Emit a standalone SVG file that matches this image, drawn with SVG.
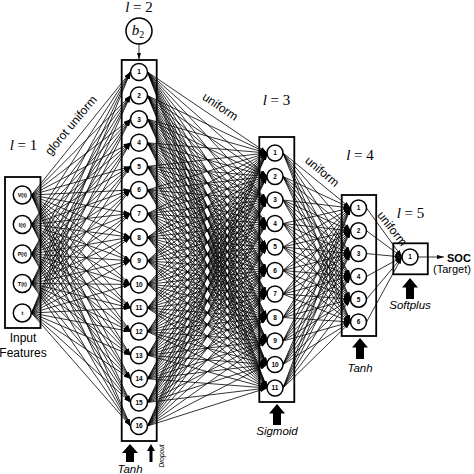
<svg xmlns="http://www.w3.org/2000/svg" width="474" height="474" viewBox="0 0 474 474">
<style>
.box{fill:none;stroke:#000;stroke-width:1.8}
.n{fill:#fff;stroke:#000;stroke-width:1.5}
.c path{stroke:#000;stroke-width:0.8;fill:none;marker-end:url(#ah)}
.num{font-family:"Liberation Sans",Arial,sans-serif;font-weight:bold;font-size:6.5px;text-anchor:middle}
.inp{font-family:"Liberation Sans",Arial,sans-serif;font-weight:bold;font-size:5.5px;text-anchor:middle}
.lay{font-family:"Liberation Serif","Times New Roman",serif;font-size:15px;text-anchor:middle}
.lbl{font-family:"Liberation Sans",Arial,sans-serif;font-size:12px}
.act{font-family:"Liberation Sans",Arial,sans-serif;font-size:11.5px;font-style:italic;text-anchor:middle}
.mid{text-anchor:middle}
</style>
<defs>
<marker id="ah" viewBox="0 0 10 6" refX="10" refY="3" markerWidth="7" markerHeight="4.2" markerUnits="userSpaceOnUse" orient="auto"><path d="M0 0L10 3L0 6Z" fill="#000"/></marker>
<path id="fa" d="M0 0L8 9.5H4V21H-4V9.5H-8Z" fill="#000"/>
<path id="fs" d="M0 0L8 9H4V18H-4V9H-8Z" fill="#000"/>
</defs>

<!-- layer boxes -->
<rect class="box" x="5" y="177" width="35.5" height="151"/>
<rect class="box" x="121.7" y="60" width="35" height="381"/>
<rect class="box" x="259.3" y="137" width="35" height="265"/>
<rect class="box" x="341.7" y="195" width="34.5" height="141"/>
<rect class="box" x="393.3" y="243.3" width="34.5" height="31"/>

<g id="connectors" class="c">
<path d="M139 44L139 59.5"/>
<path d="M418 257L444 257"/>
<!-- L1 to L2 -->
<path d="M31.5 195L130.5 72"/><path d="M31.5 195L130.5 95.6"/><path d="M31.5 195L130.5 119.2"/><path d="M31.5 195L130.5 142.8"/><path d="M31.5 195L130.5 166.4"/><path d="M31.5 195L130.5 190"/><path d="M31.5 195L130.5 213.6"/><path d="M31.5 195L130.5 237.2"/><path d="M31.5 195L130.5 260.8"/><path d="M31.5 195L130.5 284.4"/><path d="M31.5 195L130.5 308"/><path d="M31.5 195L130.5 331.6"/><path d="M31.5 195L130.5 355.2"/><path d="M31.5 195L130.5 378.8"/><path d="M31.5 195L130.5 402.4"/><path d="M31.5 195L130.5 426"/>
<path d="M31.5 224.5L130.5 72"/><path d="M31.5 224.5L130.5 95.6"/><path d="M31.5 224.5L130.5 119.2"/><path d="M31.5 224.5L130.5 142.8"/><path d="M31.5 224.5L130.5 166.4"/><path d="M31.5 224.5L130.5 190"/><path d="M31.5 224.5L130.5 213.6"/><path d="M31.5 224.5L130.5 237.2"/><path d="M31.5 224.5L130.5 260.8"/><path d="M31.5 224.5L130.5 284.4"/><path d="M31.5 224.5L130.5 308"/><path d="M31.5 224.5L130.5 331.6"/><path d="M31.5 224.5L130.5 355.2"/><path d="M31.5 224.5L130.5 378.8"/><path d="M31.5 224.5L130.5 402.4"/><path d="M31.5 224.5L130.5 426"/>
<path d="M31.5 254L130.5 72"/><path d="M31.5 254L130.5 95.6"/><path d="M31.5 254L130.5 119.2"/><path d="M31.5 254L130.5 142.8"/><path d="M31.5 254L130.5 166.4"/><path d="M31.5 254L130.5 190"/><path d="M31.5 254L130.5 213.6"/><path d="M31.5 254L130.5 237.2"/><path d="M31.5 254L130.5 260.8"/><path d="M31.5 254L130.5 284.4"/><path d="M31.5 254L130.5 308"/><path d="M31.5 254L130.5 331.6"/><path d="M31.5 254L130.5 355.2"/><path d="M31.5 254L130.5 378.8"/><path d="M31.5 254L130.5 402.4"/><path d="M31.5 254L130.5 426"/>
<path d="M31.5 283.5L130.5 72"/><path d="M31.5 283.5L130.5 95.6"/><path d="M31.5 283.5L130.5 119.2"/><path d="M31.5 283.5L130.5 142.8"/><path d="M31.5 283.5L130.5 166.4"/><path d="M31.5 283.5L130.5 190"/><path d="M31.5 283.5L130.5 213.6"/><path d="M31.5 283.5L130.5 237.2"/><path d="M31.5 283.5L130.5 260.8"/><path d="M31.5 283.5L130.5 284.4"/><path d="M31.5 283.5L130.5 308"/><path d="M31.5 283.5L130.5 331.6"/><path d="M31.5 283.5L130.5 355.2"/><path d="M31.5 283.5L130.5 378.8"/><path d="M31.5 283.5L130.5 402.4"/><path d="M31.5 283.5L130.5 426"/>
<path d="M31.5 313L130.5 72"/><path d="M31.5 313L130.5 95.6"/><path d="M31.5 313L130.5 119.2"/><path d="M31.5 313L130.5 142.8"/><path d="M31.5 313L130.5 166.4"/><path d="M31.5 313L130.5 190"/><path d="M31.5 313L130.5 213.6"/><path d="M31.5 313L130.5 237.2"/><path d="M31.5 313L130.5 260.8"/><path d="M31.5 313L130.5 284.4"/><path d="M31.5 313L130.5 308"/><path d="M31.5 313L130.5 331.6"/><path d="M31.5 313L130.5 355.2"/><path d="M31.5 313L130.5 378.8"/><path d="M31.5 313L130.5 402.4"/><path d="M31.5 313L130.5 426"/>
<!-- L2 to L3 -->
<path d="M147.5 72L267 153"/><path d="M147.5 72L267 176.5"/><path d="M147.5 72L267 200"/><path d="M147.5 72L267 223.5"/><path d="M147.5 72L267 247"/><path d="M147.5 72L267 270.5"/><path d="M147.5 72L267 294"/><path d="M147.5 72L267 317.5"/><path d="M147.5 72L267 341"/><path d="M147.5 72L267 364.5"/><path d="M147.5 72L267 388"/>
<path d="M147.5 95.6L267 153"/><path d="M147.5 95.6L267 176.5"/><path d="M147.5 95.6L267 200"/><path d="M147.5 95.6L267 223.5"/><path d="M147.5 95.6L267 247"/><path d="M147.5 95.6L267 270.5"/><path d="M147.5 95.6L267 294"/><path d="M147.5 95.6L267 317.5"/><path d="M147.5 95.6L267 341"/><path d="M147.5 95.6L267 364.5"/><path d="M147.5 95.6L267 388"/>
<path d="M147.5 119.2L267 153"/><path d="M147.5 119.2L267 176.5"/><path d="M147.5 119.2L267 200"/><path d="M147.5 119.2L267 223.5"/><path d="M147.5 119.2L267 247"/><path d="M147.5 119.2L267 270.5"/><path d="M147.5 119.2L267 294"/><path d="M147.5 119.2L267 317.5"/><path d="M147.5 119.2L267 341"/><path d="M147.5 119.2L267 364.5"/><path d="M147.5 119.2L267 388"/>
<path d="M147.5 142.8L267 153"/><path d="M147.5 142.8L267 176.5"/><path d="M147.5 142.8L267 200"/><path d="M147.5 142.8L267 223.5"/><path d="M147.5 142.8L267 247"/><path d="M147.5 142.8L267 270.5"/><path d="M147.5 142.8L267 294"/><path d="M147.5 142.8L267 317.5"/><path d="M147.5 142.8L267 341"/><path d="M147.5 142.8L267 364.5"/><path d="M147.5 142.8L267 388"/>
<path d="M147.5 166.4L267 153"/><path d="M147.5 166.4L267 176.5"/><path d="M147.5 166.4L267 200"/><path d="M147.5 166.4L267 223.5"/><path d="M147.5 166.4L267 247"/><path d="M147.5 166.4L267 270.5"/><path d="M147.5 166.4L267 294"/><path d="M147.5 166.4L267 317.5"/><path d="M147.5 166.4L267 341"/><path d="M147.5 166.4L267 364.5"/><path d="M147.5 166.4L267 388"/>
<path d="M147.5 190L267 153"/><path d="M147.5 190L267 176.5"/><path d="M147.5 190L267 200"/><path d="M147.5 190L267 223.5"/><path d="M147.5 190L267 247"/><path d="M147.5 190L267 270.5"/><path d="M147.5 190L267 294"/><path d="M147.5 190L267 317.5"/><path d="M147.5 190L267 341"/><path d="M147.5 190L267 364.5"/><path d="M147.5 190L267 388"/>
<path d="M147.5 213.6L267 153"/><path d="M147.5 213.6L267 176.5"/><path d="M147.5 213.6L267 200"/><path d="M147.5 213.6L267 223.5"/><path d="M147.5 213.6L267 247"/><path d="M147.5 213.6L267 270.5"/><path d="M147.5 213.6L267 294"/><path d="M147.5 213.6L267 317.5"/><path d="M147.5 213.6L267 341"/><path d="M147.5 213.6L267 364.5"/><path d="M147.5 213.6L267 388"/>
<path d="M147.5 237.2L267 153"/><path d="M147.5 237.2L267 176.5"/><path d="M147.5 237.2L267 200"/><path d="M147.5 237.2L267 223.5"/><path d="M147.5 237.2L267 247"/><path d="M147.5 237.2L267 270.5"/><path d="M147.5 237.2L267 294"/><path d="M147.5 237.2L267 317.5"/><path d="M147.5 237.2L267 341"/><path d="M147.5 237.2L267 364.5"/><path d="M147.5 237.2L267 388"/>
<path d="M147.5 260.8L267 153"/><path d="M147.5 260.8L267 176.5"/><path d="M147.5 260.8L267 200"/><path d="M147.5 260.8L267 223.5"/><path d="M147.5 260.8L267 247"/><path d="M147.5 260.8L267 270.5"/><path d="M147.5 260.8L267 294"/><path d="M147.5 260.8L267 317.5"/><path d="M147.5 260.8L267 341"/><path d="M147.5 260.8L267 364.5"/><path d="M147.5 260.8L267 388"/>
<path d="M147.5 284.4L267 153"/><path d="M147.5 284.4L267 176.5"/><path d="M147.5 284.4L267 200"/><path d="M147.5 284.4L267 223.5"/><path d="M147.5 284.4L267 247"/><path d="M147.5 284.4L267 270.5"/><path d="M147.5 284.4L267 294"/><path d="M147.5 284.4L267 317.5"/><path d="M147.5 284.4L267 341"/><path d="M147.5 284.4L267 364.5"/><path d="M147.5 284.4L267 388"/>
<path d="M147.5 308L267 153"/><path d="M147.5 308L267 176.5"/><path d="M147.5 308L267 200"/><path d="M147.5 308L267 223.5"/><path d="M147.5 308L267 247"/><path d="M147.5 308L267 270.5"/><path d="M147.5 308L267 294"/><path d="M147.5 308L267 317.5"/><path d="M147.5 308L267 341"/><path d="M147.5 308L267 364.5"/><path d="M147.5 308L267 388"/>
<path d="M147.5 331.6L267 153"/><path d="M147.5 331.6L267 176.5"/><path d="M147.5 331.6L267 200"/><path d="M147.5 331.6L267 223.5"/><path d="M147.5 331.6L267 247"/><path d="M147.5 331.6L267 270.5"/><path d="M147.5 331.6L267 294"/><path d="M147.5 331.6L267 317.5"/><path d="M147.5 331.6L267 341"/><path d="M147.5 331.6L267 364.5"/><path d="M147.5 331.6L267 388"/>
<path d="M147.5 355.2L267 153"/><path d="M147.5 355.2L267 176.5"/><path d="M147.5 355.2L267 200"/><path d="M147.5 355.2L267 223.5"/><path d="M147.5 355.2L267 247"/><path d="M147.5 355.2L267 270.5"/><path d="M147.5 355.2L267 294"/><path d="M147.5 355.2L267 317.5"/><path d="M147.5 355.2L267 341"/><path d="M147.5 355.2L267 364.5"/><path d="M147.5 355.2L267 388"/>
<path d="M147.5 378.8L267 153"/><path d="M147.5 378.8L267 176.5"/><path d="M147.5 378.8L267 200"/><path d="M147.5 378.8L267 223.5"/><path d="M147.5 378.8L267 247"/><path d="M147.5 378.8L267 270.5"/><path d="M147.5 378.8L267 294"/><path d="M147.5 378.8L267 317.5"/><path d="M147.5 378.8L267 341"/><path d="M147.5 378.8L267 364.5"/><path d="M147.5 378.8L267 388"/>
<path d="M147.5 402.4L267 153"/><path d="M147.5 402.4L267 176.5"/><path d="M147.5 402.4L267 200"/><path d="M147.5 402.4L267 223.5"/><path d="M147.5 402.4L267 247"/><path d="M147.5 402.4L267 270.5"/><path d="M147.5 402.4L267 294"/><path d="M147.5 402.4L267 317.5"/><path d="M147.5 402.4L267 341"/><path d="M147.5 402.4L267 364.5"/><path d="M147.5 402.4L267 388"/>
<path d="M147.5 426L267 153"/><path d="M147.5 426L267 176.5"/><path d="M147.5 426L267 200"/><path d="M147.5 426L267 223.5"/><path d="M147.5 426L267 247"/><path d="M147.5 426L267 270.5"/><path d="M147.5 426L267 294"/><path d="M147.5 426L267 317.5"/><path d="M147.5 426L267 341"/><path d="M147.5 426L267 364.5"/><path d="M147.5 426L267 388"/>
<!-- L3 to L4 -->
<path d="M283 153L350.5 208"/><path d="M283 153L350.5 230.8"/><path d="M283 153L350.5 253.6"/><path d="M283 153L350.5 276.4"/><path d="M283 153L350.5 299.2"/><path d="M283 153L350.5 322"/>
<path d="M283 176.5L350.5 208"/><path d="M283 176.5L350.5 230.8"/><path d="M283 176.5L350.5 253.6"/><path d="M283 176.5L350.5 276.4"/><path d="M283 176.5L350.5 299.2"/><path d="M283 176.5L350.5 322"/>
<path d="M283 200L350.5 208"/><path d="M283 200L350.5 230.8"/><path d="M283 200L350.5 253.6"/><path d="M283 200L350.5 276.4"/><path d="M283 200L350.5 299.2"/><path d="M283 200L350.5 322"/>
<path d="M283 223.5L350.5 208"/><path d="M283 223.5L350.5 230.8"/><path d="M283 223.5L350.5 253.6"/><path d="M283 223.5L350.5 276.4"/><path d="M283 223.5L350.5 299.2"/><path d="M283 223.5L350.5 322"/>
<path d="M283 247L350.5 208"/><path d="M283 247L350.5 230.8"/><path d="M283 247L350.5 253.6"/><path d="M283 247L350.5 276.4"/><path d="M283 247L350.5 299.2"/><path d="M283 247L350.5 322"/>
<path d="M283 270.5L350.5 208"/><path d="M283 270.5L350.5 230.8"/><path d="M283 270.5L350.5 253.6"/><path d="M283 270.5L350.5 276.4"/><path d="M283 270.5L350.5 299.2"/><path d="M283 270.5L350.5 322"/>
<path d="M283 294L350.5 208"/><path d="M283 294L350.5 230.8"/><path d="M283 294L350.5 253.6"/><path d="M283 294L350.5 276.4"/><path d="M283 294L350.5 299.2"/><path d="M283 294L350.5 322"/>
<path d="M283 317.5L350.5 208"/><path d="M283 317.5L350.5 230.8"/><path d="M283 317.5L350.5 253.6"/><path d="M283 317.5L350.5 276.4"/><path d="M283 317.5L350.5 299.2"/><path d="M283 317.5L350.5 322"/>
<path d="M283 341L350.5 208"/><path d="M283 341L350.5 230.8"/><path d="M283 341L350.5 253.6"/><path d="M283 341L350.5 276.4"/><path d="M283 341L350.5 299.2"/><path d="M283 341L350.5 322"/>
<path d="M283 364.5L350.5 208"/><path d="M283 364.5L350.5 230.8"/><path d="M283 364.5L350.5 253.6"/><path d="M283 364.5L350.5 276.4"/><path d="M283 364.5L350.5 299.2"/><path d="M283 364.5L350.5 322"/>
<path d="M283 388L350.5 208"/><path d="M283 388L350.5 230.8"/><path d="M283 388L350.5 253.6"/><path d="M283 388L350.5 276.4"/><path d="M283 388L350.5 299.2"/><path d="M283 388L350.5 322"/>
<!-- L4 to L5 -->
<path d="M366.5 208L402 257"/><path d="M366.5 230.8L402 257"/><path d="M366.5 253.6L402 257"/><path d="M366.5 276.4L402 257"/><path d="M366.5 299.2L402 257"/><path d="M366.5 322L402 257"/>
</g>

<g id="layer1">
<circle class="n" cx="22.3" cy="195" r="9"/><text class="inp" x="22.3" y="197">V(t)</text>
<circle class="n" cx="22.3" cy="224.5" r="9"/><text class="inp" x="22.3" y="226.5">I(t)</text>
<circle class="n" cx="22.3" cy="254" r="9"/><text class="inp" x="22.3" y="256">P(t)</text>
<circle class="n" cx="22.3" cy="283.5" r="9"/><text class="inp" x="22.3" y="285.5">T(t)</text>
<circle class="n" cx="22.3" cy="313" r="9"/><text class="inp" x="22.3" y="315">t</text>
<text class="lay" x="23.5" y="150"><tspan font-style="italic">l</tspan> = 1</text>
<text class="lbl mid" x="23" y="342" font-size="11.5">Input</text>
<text class="lbl mid" x="23" y="357" font-size="11.5">Features</text>
</g>

<g id="bias">
<circle class="n" cx="139" cy="31" r="13"/>
<text x="138" y="35" font-family="Liberation Serif,serif" font-size="15" text-anchor="middle"><tspan font-style="italic">b</tspan><tspan font-size="10" dy="3">2</tspan></text>
</g>

<g id="layer2">
<circle class="n" cx="139" cy="72" r="8.5"/><text class="num" x="139" y="74.3">1</text>
<circle class="n" cx="139" cy="95.6" r="8.5"/><text class="num" x="139" y="97.9">2</text>
<circle class="n" cx="139" cy="119.2" r="8.5"/><text class="num" x="139" y="121.5">3</text>
<circle class="n" cx="139" cy="142.8" r="8.5"/><text class="num" x="139" y="145.1">4</text>
<circle class="n" cx="139" cy="166.4" r="8.5"/><text class="num" x="139" y="168.7">5</text>
<circle class="n" cx="139" cy="190" r="8.5"/><text class="num" x="139" y="192.3">6</text>
<circle class="n" cx="139" cy="213.6" r="8.5"/><text class="num" x="139" y="215.9">7</text>
<circle class="n" cx="139" cy="237.2" r="8.5"/><text class="num" x="139" y="239.5">8</text>
<circle class="n" cx="139" cy="260.8" r="8.5"/><text class="num" x="139" y="263.1">9</text>
<circle class="n" cx="139" cy="284.4" r="8.5"/><text class="num" x="139" y="286.7">10</text>
<circle class="n" cx="139" cy="308" r="8.5"/><text class="num" x="139" y="310.3">11</text>
<circle class="n" cx="139" cy="331.6" r="8.5"/><text class="num" x="139" y="333.9">12</text>
<circle class="n" cx="139" cy="355.2" r="8.5"/><text class="num" x="139" y="357.5">13</text>
<circle class="n" cx="139" cy="378.8" r="8.5"/><text class="num" x="139" y="381.1">14</text>
<circle class="n" cx="139" cy="402.4" r="8.5"/><text class="num" x="139" y="404.7">15</text>
<circle class="n" cx="139" cy="426" r="8.5"/><text class="num" x="139" y="428.3">16</text>
<text class="lay" x="139" y="12"><tspan font-style="italic">l</tspan> = 2</text>
<use href="#fs" x="130" y="444"/>
<path d="M151 444L155 451H152.5V462H149.5V451H147Z" fill="#000"/>
<text class="act" x="130" y="472.5">Tanh</text>
<text font-family="Liberation Sans,sans-serif" font-size="6.5" font-style="italic" text-anchor="middle" transform="translate(164,456) rotate(-90)">Dropout</text>
</g>

<g id="layer3">
<circle class="n" cx="275" cy="153" r="8"/><text class="num" x="275" y="155.3">1</text>
<circle class="n" cx="275" cy="176.5" r="8"/><text class="num" x="275" y="178.8">2</text>
<circle class="n" cx="275" cy="200" r="8"/><text class="num" x="275" y="202.3">3</text>
<circle class="n" cx="275" cy="223.5" r="8"/><text class="num" x="275" y="225.8">4</text>
<circle class="n" cx="275" cy="247" r="8"/><text class="num" x="275" y="249.3">5</text>
<circle class="n" cx="275" cy="270.5" r="8"/><text class="num" x="275" y="272.8">6</text>
<circle class="n" cx="275" cy="294" r="8"/><text class="num" x="275" y="296.3">7</text>
<circle class="n" cx="275" cy="317.5" r="8"/><text class="num" x="275" y="319.8">8</text>
<circle class="n" cx="275" cy="341" r="8"/><text class="num" x="275" y="343.3">9</text>
<circle class="n" cx="275" cy="364.5" r="8"/><text class="num" x="275" y="366.8">10</text>
<circle class="n" cx="275" cy="388" r="8"/><text class="num" x="275" y="390.3">11</text>
<text class="lay" x="276.5" y="105"><tspan font-style="italic">l</tspan> = 3</text>
<use href="#fa" x="277" y="404"/>
<text class="act" x="277" y="435">Sigmoid</text>
</g>

<g id="layer4">
<circle class="n" cx="358.5" cy="208" r="8"/><text class="num" x="358.5" y="210.3">1</text>
<circle class="n" cx="358.5" cy="230.8" r="8"/><text class="num" x="358.5" y="233.1">2</text>
<circle class="n" cx="358.5" cy="253.6" r="8"/><text class="num" x="358.5" y="255.9">3</text>
<circle class="n" cx="358.5" cy="276.4" r="8"/><text class="num" x="358.5" y="278.7">4</text>
<circle class="n" cx="358.5" cy="299.2" r="8"/><text class="num" x="358.5" y="301.5">5</text>
<circle class="n" cx="358.5" cy="322" r="8"/><text class="num" x="358.5" y="324.3">6</text>
<text class="lay" x="360" y="160"><tspan font-style="italic">l</tspan> = 4</text>
<use href="#fa" x="360" y="338"/>
<text class="act" x="360" y="372">Tanh</text>
</g>

<g id="layer5">
<circle class="n" cx="410" cy="257" r="8"/><text class="num" x="410" y="259.3">1</text>
<text class="lay" x="410.5" y="218"><tspan font-style="italic">l</tspan> = 5</text>
<use href="#fa" x="410" y="278"/>
<text class="act" x="410" y="309">Softplus</text>
</g>

<g id="output">
<text x="447" y="262" font-family="Liberation Sans,sans-serif" font-size="11" font-weight="bold">SOC</text>
<text x="452" y="273" font-family="Liberation Sans,sans-serif" font-size="11" text-anchor="middle">(Target)</text>
</g>

<g id="labels">
<text class="lbl mid" transform="translate(74,128) rotate(-50)">glorot uniform</text>
<text class="lbl mid" transform="translate(218,110) rotate(34)">uniform</text>
<text class="lbl mid" transform="translate(319.5,174.5) rotate(40)">uniform</text>
<text class="lbl mid" font-size="9" transform="translate(389,231) rotate(52)">uniform</text>
</g>
</svg>
